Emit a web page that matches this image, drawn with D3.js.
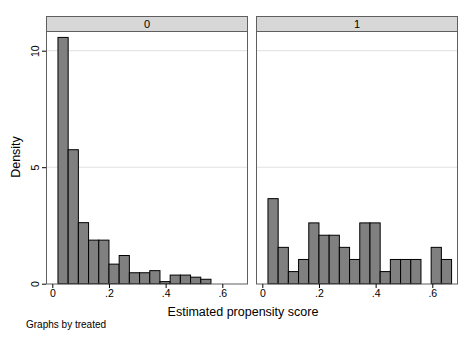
<!DOCTYPE html>
<html>
<head>
<meta charset="utf-8">
<script src="https://cdn.jsdelivr.net/npm/d3@7/dist/d3.min.js"></script>
<style>
  html, body { margin: 0; padding: 0; background: #fff; }
  svg { display: block; font-family: "Liberation Sans", Arial, sans-serif; }
</style>
</head>
<body>
<svg id="chart" width="474" height="344"></svg>
<script>
// Histogram bins shared by both panels
const binStart = 0.02;
const binWidth = 0.036;

// Density per bin, by treatment group
const panelLabels = ["0", "1"];
const density0 = [10.57, 5.75, 2.62, 1.87, 1.87, 0.84, 1.21, 0.47, 0.47, 0.56, 0.09, 0.37, 0.37, 0.28, 0.19];
const density1 = [3.65, 1.56, 0.52, 1.04, 2.61, 2.08, 2.08, 1.56, 1.04, 2.61, 2.61, 0.52, 1.04, 1.04, 1.04, 0, 1.56, 1.04];
const densities = [density0, density1];

// Axis ticks
const xTicks = [0, 0.2, 0.4, 0.6];
const xTickLabels = ["0", ".2", ".4", ".6"];
const yTicks = [0, 5, 10];
const yGrid = [5, 10];

const svg = d3.select("#chart");

const panelW = 202, panelGap = 8;
const panelLeft = 46;
const headerTop = 16, headerH = 15;
const plotTop = headerTop + headerH, plotBottom = 284;

const y = d3.scaleLinear().domain([0, 10]).range([283.7, 50.7]);

densities.forEach((vals, p) => {
  const left = panelLeft + p * (panelW + panelGap);
  const x = d3.scaleLinear().domain([0, 0.6]).range([left + 6.3, left + 176.3]);
  const g = svg.append("g");

  // plot region background + gridlines
  g.append("rect")
    .attr("x", left).attr("y", plotTop)
    .attr("width", panelW).attr("height", plotBottom - plotTop)
    .attr("fill", "#fff");
  g.selectAll("line.grid").data(yGrid).join("line")
    .attr("class", "grid")
    .attr("x1", left).attr("x2", left + panelW)
    .attr("y1", d => y(d)).attr("y2", d => y(d))
    .attr("stroke", "#e0e0e0").attr("stroke-width", 1);

  // bars
  const bins = vals.map((v, i) => ({ x0: binStart + i * binWidth, x1: binStart + (i + 1) * binWidth, v }));
  g.selectAll("rect.bar").data(bins.filter(b => b.v > 0)).join("rect")
    .attr("class", "bar")
    .attr("x", d => x(d.x0)).attr("width", d => x(d.x1) - x(d.x0))
    .attr("y", d => y(d.v)).attr("height", d => y(0) - y(d.v))
    .attr("fill", "#808080").attr("stroke", "#000").attr("stroke-width", 1);

  // frame
  g.append("rect")
    .attr("x", left + 0.5).attr("y", plotTop)
    .attr("width", panelW - 1).attr("height", plotBottom - plotTop)
    .attr("fill", "none").attr("stroke", "#5f5f5f").attr("stroke-width", 1);

  // header strip
  g.append("rect")
    .attr("x", left + 0.5).attr("y", headerTop + 0.5)
    .attr("width", panelW - 1).attr("height", headerH)
    .attr("fill", "#d7d7d7").attr("stroke", "#5f5f5f").attr("stroke-width", 1);
  g.append("text")
    .attr("x", left + panelW / 2).attr("y", headerTop + headerH / 2 + 4)
    .attr("text-anchor", "middle").attr("font-size", 11).attr("fill", "#000")
    .text(panelLabels[p]);

  // x axis
  const xAxis = d3.axisBottom(x).tickValues(xTicks)
    .tickFormat((d, i) => xTickLabels[i]).tickSize(4).tickPadding(2);
  const ax = g.append("g").attr("transform", `translate(0,${plotBottom})`).call(xAxis);
  ax.select(".domain").remove();
  ax.selectAll(".tick line").attr("stroke", "#000");
  ax.selectAll(".tick text").attr("font-size", 10.5).attr("fill", "#000")
    .attr("font-family", "Liberation Sans, Arial, sans-serif");

  // y axis on the first panel only
  if (p === 0) {
    const yAxis = d3.axisLeft(y).tickValues(yTicks).tickSize(4).tickPadding(3);
    const ay = g.append("g").attr("transform", `translate(${left},0)`).call(yAxis);
    ay.select(".domain").remove();
    ay.selectAll(".tick line").attr("stroke", "#000");
    ay.selectAll(".tick text")
      .attr("font-size", 10.5).attr("fill", "#000")
      .attr("font-family", "Liberation Sans, Arial, sans-serif")
      .attr("text-anchor", "middle")
      .attr("x", null)
      .attr("transform", "translate(-10.5,0) rotate(-90)")
      .attr("dy", "0.35em");
  }
});

// axis titles and note
svg.append("text")
  .attr("transform", "translate(20,157) rotate(-90)")
  .attr("text-anchor", "middle").attr("font-size", 12.5).attr("fill", "#000")
  .text("Density");
svg.append("text")
  .attr("x", 243).attr("y", 316)
  .attr("text-anchor", "middle").attr("font-size", 12.5).attr("fill", "#000")
  .text("Estimated propensity score");
svg.append("text")
  .attr("x", 26).attr("y", 327.5)
  .attr("font-size", 10).attr("fill", "#000")
  .text("Graphs by treated");
</script>
</body>
</html>
